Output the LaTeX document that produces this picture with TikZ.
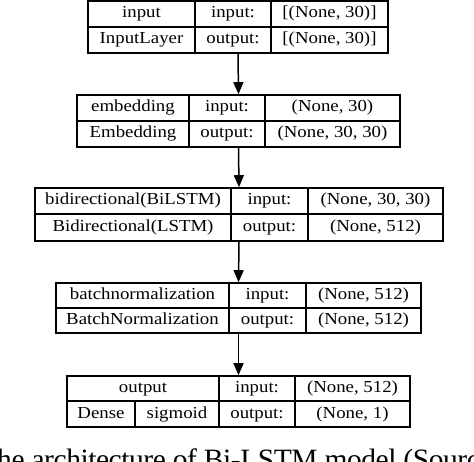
\documentclass[tikz,border=0pt]{standalone}
\usepackage{fontspec}
\setmainfont{Liberation Serif}[FakeStretch=1.12]
\newfontfamily\capfont{Liberation Serif}[LetterSpace=-1.5]
\usetikzlibrary{arrows.meta,fit}
\begin{document}
\begin{tikzpicture}[x=1pt,y=-1pt,
  cell/.style={draw=black,line width=1.2pt,inner sep=0pt,text height=11.5pt,text depth=3.5pt,font=\fontsize{16.8}{18}\selectfont},
  boxfit/.style={inner sep=0pt},
  arr/.style={line width=1.5pt,-{Triangle[length=12pt,width=10pt]}},
  caption/.style={inner sep=0pt,anchor=base west,font=\capfont\fontsize{29.5}{31}\selectfont}]
\useasboundingbox (0,0) rectangle (474,462);
\clip (0,0) rectangle (474,462);
% Box 1
\node[cell,minimum width=107pt,minimum height=26pt] (a1) at (141.5,14) {input};
\node[cell,minimum width=76pt,minimum height=26pt] (a2) at (233,14) {input:};
\node[cell,minimum width=117pt,minimum height=26pt] (a3) at (329.5,14) {[(None, 30)]};
\node[cell,minimum width=107pt,minimum height=26pt] (a4) at (141.5,40) {InputLayer};
\node[cell,minimum width=76pt,minimum height=26pt] (a5) at (233,40) {output:};
\node[cell,minimum width=117pt,minimum height=26pt] (a6) at (329.5,40) {[(None, 30)]};
\node[boxfit,fit=(a1)(a6)] (box1) {};
% Box 2
\node[cell,minimum width=112pt,minimum height=26pt] (b1) at (133,108) {embedding};
\node[cell,minimum width=76pt,minimum height=26pt] (b2) at (227,108) {input:};
\node[cell,minimum width=135pt,minimum height=26pt] (b3) at (332.5,108) {(None, 30)};
\node[cell,minimum width=112pt,minimum height=26pt] (b4) at (133,134) {Embedding};
\node[cell,minimum width=76pt,minimum height=26pt] (b5) at (227,134) {output:};
\node[cell,minimum width=135pt,minimum height=26pt] (b6) at (332.5,134) {(None, 30, 30)};
\node[boxfit,fit=(b1)(b6)] (box2) {};
% Box 3
\node[cell,minimum width=196pt,minimum height=26pt] (c1) at (133,201) {bidirectional(BiLSTM)};
\node[cell,minimum width=77pt,minimum height=26pt] (c2) at (269.5,201) {input:};
\node[cell,minimum width=135pt,minimum height=26pt] (c3) at (375.5,201) {(None, 30, 30)};
\node[cell,minimum width=196pt,minimum height=27pt] (c4) at (133,227.5) {Bidirectional(LSTM)};
\node[cell,minimum width=77pt,minimum height=27pt] (c5) at (269.5,227.5) {output:};
\node[cell,minimum width=135pt,minimum height=27pt] (c6) at (375.5,227.5) {(None, 512)};
\node[boxfit,fit=(c1)(c6)] (box3) {};
% Box 4
\node[cell,minimum width=173pt,minimum height=25pt] (d1) at (142.5,295.5) {batchnormalization};
\node[cell,minimum width=77pt,minimum height=25pt] (d2) at (267.5,295.5) {input:};
\node[cell,minimum width=115pt,minimum height=25pt] (d3) at (363.5,295.5) {(None, 512)};
\node[cell,minimum width=173pt,minimum height=25pt] (d4) at (142.5,320.5) {BatchNormalization};
\node[cell,minimum width=77pt,minimum height=25pt] (d5) at (267.5,320.5) {output:};
\node[cell,minimum width=115pt,minimum height=25pt] (d6) at (363.5,320.5) {(None, 512)};
\node[boxfit,fit=(d1)(d6)] (box4) {};
% Box 5
\node[cell,minimum width=152pt,minimum height=25pt] (e1) at (143,388.5) {output};
\node[cell,minimum width=76pt,minimum height=25pt] (e2) at (257,388.5) {input:};
\node[cell,minimum width=115pt,minimum height=25pt] (e3) at (352.5,388.5) {(None, 512)};
\node[cell,minimum width=68pt,minimum height=26pt] (e4) at (101,414) {Dense};
\node[cell,minimum width=84pt,minimum height=26pt] (e5) at (177,414) {sigmoid};
\node[cell,minimum width=76pt,minimum height=26pt] (e6) at (257,414) {output:};
\node[cell,minimum width=115pt,minimum height=26pt] (e7) at (352.5,414) {(None, 1)};
\node[boxfit,fit=(e1)(e7)] (box5) {};
% Arrows
\draw[arr] (box1.south) -- (box2.north);
\draw[arr] (box2.south) -- (box3.north);
\draw[arr] (box3.south) -- (box4.north);
\draw[arr] (box4.south) -- (box5.north);
% Caption (cut off at the bottom edge, as in the reference)
\node[caption] (cap) at (-3,469) {he architecture of Bi-LSTM model (Source};
\end{tikzpicture}
\end{document}
